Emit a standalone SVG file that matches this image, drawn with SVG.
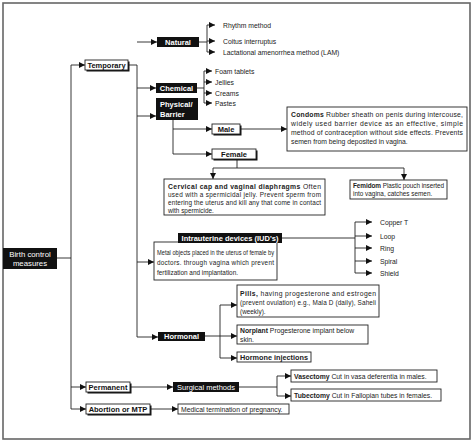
<svg xmlns="http://www.w3.org/2000/svg" width="474" height="445" viewBox="0 0 474 445">
<defs>
<marker id="ah" viewBox="0 0 6 6" refX="6" refY="3" markerWidth="6" markerHeight="6" markerUnits="userSpaceOnUse" orient="auto"><path d="M0,0 L6,3 L0,6 z" fill="#111"/></marker>
</defs>
<style>
text{font-family:"Liberation Sans",Arial,sans-serif;font-size:6.8px;fill:#222}
.s{font-size:6.4px}
.b{font-weight:bold}
.w{fill:#fff;font-weight:bold;font-size:7.5px}
.blk{fill:#111}
.box{fill:#fff;stroke:#222;stroke-width:0.9}
.sh{fill:#111}
.c{fill:none;stroke:#222;stroke-width:0.9}
.a{marker-end:url(#ah)}
.lab{font-weight:bold;font-size:7.5px;fill:#111}
</style>
<rect x="0" y="0" width="474" height="445" fill="#fff"/>
<rect x="3" y="3" width="467" height="436" fill="none" stroke="#666" stroke-width="1.6"/>

<g id="connectors">
<path class="c" d="M57,258 H71"/>
<path class="c a" d="M71,258 V65 H85"/>
<path class="c a" d="M71,258 V409 H86"/>
<path class="c a" d="M71,387 H86"/>
<path class="c a" d="M128,65 H137 V337 H158"/>
<path class="c a" d="M137,42 H157"/>
<path class="c a" d="M137,88 H156"/>
<path class="c a" d="M137,116 H156"/>
<path class="c a" d="M137,262 H154"/>
<path class="c" d="M199,42 H207 M207,25 V52"/>
<path class="c a" d="M207,25 H215"/>
<path class="c a" d="M207,41 H215"/>
<path class="c a" d="M207,52 H215"/>
<path class="c" d="M197,88 H204 M204,71 V103"/>
<path class="c a" d="M204,71 H212"/>
<path class="c a" d="M204,82 H212"/>
<path class="c a" d="M204,93 H212"/>
<path class="c a" d="M204,103 H212"/>
<path class="c a" d="M173,120 V154 H212"/>
<path class="c a" d="M173,129 H212"/>
<path class="c a" d="M240,129 H287"/>
<path class="c" d="M237,159 V168 M213,168 H404"/>
<path class="c a" d="M213,168 V179"/>
<path class="c a" d="M404,168 V180"/>
<path class="c" d="M282,238 H355 M355,222 V273"/>
<path class="c a" d="M355,222 H372"/>
<path class="c a" d="M355,236 H372"/>
<path class="c a" d="M355,248 H372"/>
<path class="c a" d="M355,261 H372"/>
<path class="c a" d="M355,273 H372"/>
<path class="c a" d="M205,336 H237"/>
<path class="c" d="M220,305 V358"/>
<path class="c a" d="M220,305 H237"/>
<path class="c a" d="M220,358 H237"/>
<path class="c a" d="M130,387 H173"/>
<path class="c" d="M239,387 H277 M277,376 V396"/>
<path class="c a" d="M277,376 H291"/>
<path class="c a" d="M277,396 H291"/>
<path class="c a" d="M150,409 H178"/>
</g>

<g id="birth-control">
<rect class="blk" x="3" y="248" width="54" height="21"/>
<text x="30" y="256.5" text-anchor="middle" style="fill:#fff;font-size:7.8px">Birth control</text>
<text x="30" y="265.5" text-anchor="middle" style="fill:#fff;font-size:7.8px">measures</text>
</g>

<g id="temporary">
<rect class="sh" x="86.5" y="61.5" width="43" height="10"/>
<rect class="box" x="85" y="60" width="43" height="10"/>
<text class="lab" x="106.5" y="67.5" text-anchor="middle">Temporary</text>
</g>

<g id="natural">
<rect class="blk" x="157" y="37" width="42" height="10"/>
<text class="w" x="178" y="44.7" text-anchor="middle">Natural</text>
<text x="223" y="27.5">Rhythm method</text>
<text x="223" y="43.5">Coitus interruptus</text>
<text x="223" y="54.5">Lactational amenorrhea method (LAM)</text>
</g>

<g id="chemical">
<rect class="blk" x="156" y="83" width="41" height="10"/>
<text class="w" x="176.5" y="90.7" text-anchor="middle">Chemical</text>
<text x="215" y="73.5">Foam tablets</text>
<text x="215" y="84.5">Jellies</text>
<text x="215" y="95.5">Creams</text>
<text x="215" y="105.5">Pastes</text>
</g>

<g id="physical-barrier">
<rect class="blk" x="156" y="98" width="42" height="22"/>
<text class="w" x="160" y="107">Physical/</text>
<text class="w" x="160" y="117">Barrier</text>
</g>

<g id="male">
<rect class="sh" x="213.5" y="125.5" width="28" height="10"/>
<rect class="box" x="212" y="124" width="28" height="10"/>
<text class="lab" x="226" y="131.5" text-anchor="middle">Male</text>
</g>

<g id="condoms">
<rect class="box" x="287" y="107" width="180" height="44"/>
<text x="291" y="117" textLength="172" lengthAdjust="spacing"><tspan class="b">Condoms</tspan>  Rubber sheath on penis during intercouse,</text>
<text x="291" y="126" textLength="172" lengthAdjust="spacing">widely used barrier device as an effective, simple</text>
<text x="291" y="135" textLength="172" lengthAdjust="spacing">method of contraception without side effects. Prevents</text>
<text x="291" y="144">semen from being deposited in vagina.</text>
</g>

<g id="female">
<rect class="sh" x="213.5" y="150.5" width="44" height="10"/>
<rect class="box" x="212" y="149" width="44" height="10"/>
<text class="lab" x="234" y="156.5" text-anchor="middle">Female</text>
</g>

<g id="cervical">
<rect class="box" x="164" y="179" width="161" height="36"/>
<text x="168" y="188.5" textLength="153" lengthAdjust="spacing"><tspan class="b">Cervical cap and vaginal  diaphragms</tspan>  Often</text>
<text class="s" x="168" y="196.5" textLength="153" lengthAdjust="spacing">used with a spermicidal jelly. Prevent sperm from</text>
<text class="s" x="168" y="204.5" textLength="153" lengthAdjust="spacing">entering the uterus and kill any that come in contact</text>
<text class="s" x="168" y="212.5">with spermicide.</text>
</g>

<g id="femidom">
<rect class="box" x="350" y="180" width="97" height="19"/>
<text class="s" x="353" y="188" textLength="91" lengthAdjust="spacing"><tspan class="b">Femidom</tspan>  Plastic pouch inserted</text>
<text class="s" x="353" y="196">into vagina, catches semen.</text>
</g>

<g id="iud">
<rect class="box" x="154" y="242" width="123" height="38"/>
<rect class="blk" x="178" y="233" width="104" height="10"/>
<text class="w" x="230" y="240.7" text-anchor="middle">Intrauterine devices (IUD's)</text>
<text class="s" x="157" y="254.5" textLength="117" lengthAdjust="spacingAndGlyphs">Metal objects placed in the uterus of female by</text>
<text class="s" x="157" y="264.5" textLength="117" lengthAdjust="spacing">doctors.  through  vagina  which  prevent</text>
<text class="s" x="157" y="274.5">fertilization and implantation.</text>
<text x="380" y="224.5">Copper T</text>
<text x="380" y="238.5">Loop</text>
<text x="380" y="250.5">Ring</text>
<text x="380" y="263.5">Spiral</text>
<text x="380" y="275.5">Shield</text>
</g>

<g id="hormonal">
<rect class="blk" x="158" y="332" width="47" height="9"/>
<text class="w" x="181.5" y="339.3" text-anchor="middle">Hormonal</text>
</g>

<g id="pills">
<rect class="box" x="237" y="285" width="142" height="32"/>
<text x="240" y="295.5" textLength="136" lengthAdjust="spacing"><tspan class="b">Pills,</tspan>  having  progesterone  and  estrogen</text>
<text class="s" x="240" y="304.5" textLength="136" lengthAdjust="spacing">(prevent ovulation) e.g., Mala D (daily), Saheli</text>
<text class="s" x="240" y="313.5">(weekly).</text>
</g>

<g id="norplant">
<rect class="box" x="237" y="325" width="131" height="19"/>
<text x="240" y="333"><tspan class="b">Norplant</tspan>  Progesterone implant below</text>
<text x="240" y="341.5">skin.</text>
</g>

<g id="hormone-injections">
<rect class="box" x="237" y="352" width="74" height="10"/>
<text class="b" x="240" y="359.5" textLength="68" lengthAdjust="spacingAndGlyphs">Hormone injections</text>
</g>

<g id="permanent">
<rect class="sh" x="87.5" y="383.5" width="44" height="10"/>
<rect class="box" x="86" y="382" width="44" height="10"/>
<text class="lab" x="108" y="389.5" text-anchor="middle">Permanent</text>
</g>

<g id="surgical">
<rect class="blk" x="173" y="382" width="66" height="10"/>
<text class="w" x="206" y="389.6" text-anchor="middle" style="font-weight:normal">Surgical methods</text>
</g>

<g id="vasectomy">
<rect class="box" x="291" y="370" width="146" height="12"/>
<text x="294" y="378.5"><tspan class="b">Vasectomy</tspan>  Cut in vasa deferentia in males.</text>
</g>

<g id="tubectomy">
<rect class="box" x="291" y="389" width="150" height="12"/>
<text x="294" y="397.5"><tspan class="b">Tubectomy</tspan>  Cut in Fallopian tubes in females.</text>
</g>

<g id="abortion">
<rect class="sh" x="87.5" y="405.5" width="64" height="10"/>
<rect class="box" x="86" y="404" width="64" height="10"/>
<text class="lab" x="118" y="411.5" text-anchor="middle">Abortion or MTP</text>
</g>

<g id="medical">
<rect class="box" x="178" y="404" width="111" height="10"/>
<text x="181" y="411.5">Medical termination of pregnancy.</text>
</g>
</svg>
